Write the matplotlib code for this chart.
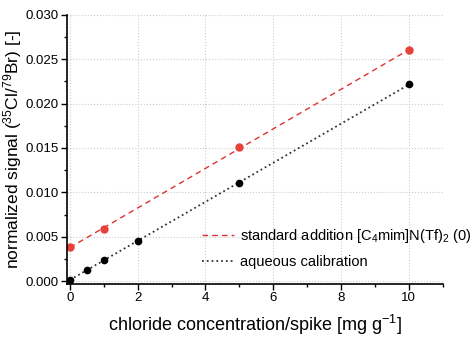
import numpy as np
import matplotlib.pyplot as plt

plt.rcParams['font.family'] = ['Liberation Sans', 'DejaVu Sans']
plt.rcParams['mathtext.fontset'] = 'custom'
plt.rcParams['mathtext.rm'] = 'Liberation Sans'
plt.rcParams['mathtext.it'] = 'Liberation Sans'

# aqueous calibration
x_aq = [0, 0.5, 1, 2, 5, 10]
y_aq = [0.0001, 0.0013, 0.0024, 0.0045, 0.0110, 0.0222]

# standard addition [C4mim]N(Tf)2
x_sa = [0, 1, 5, 10]
y_sa = [0.0038, 0.0059, 0.0151, 0.0260]
err_sa = [0.0002, 0.0002, 0.0002, 0.0003]

fig = plt.figure(figsize=(4.74, 3.39), dpi=100)
ax = fig.add_axes([0.141, 0.162, 0.793, 0.794])

xf = np.array([0, 10])
p_sa = np.polyfit(x_sa, y_sa, 1)
p_aq = np.polyfit(x_aq, y_aq, 1)
ax.plot(xf, np.polyval(p_sa, xf), '--', color='#e03030', lw=1.0, dashes=(4, 3),
        label='standard addition [C$_4$mim]N(Tf)$_2$ (0)')
ax.plot(xf, np.polyval(p_aq, xf), ':', color='#333333', lw=1.3,
        label='aqueous calibration')
ax.errorbar(x_sa, y_sa, yerr=err_sa, fmt='o', color='#e8403a', ms=5, capsize=1.5, elinewidth=0.8)
ax.plot(x_aq, y_aq, 'o', color='black', ms=4.5)

ax.set_xlim(-0.09, 11)
ax.set_ylim(-0.00034, 0.030)
ax.set_xticks([0, 2, 4, 6, 8, 10])
ax.set_xticks([1, 3, 5, 7, 9, 11], minor=True)
ax.set_yticks(np.arange(0, 0.0301, 0.005))
ax.set_yticks(np.arange(0.0025, 0.030, 0.005), minor=True)
ax.set_yticklabels(['%.3f' % v for v in np.arange(0, 0.0301, 0.005)])
ax.tick_params(labelsize=9.5, width=1.0, length=4, direction='out', pad=2)
ax.tick_params(which='minor', width=1.0, length=2.5, direction='out')
ax.grid(True, color='#cccccc', linestyle=':', lw=0.8)
ax.spines['top'].set_visible(False)
ax.spines['right'].set_visible(False)
ax.spines['left'].set_linewidth(1.2)
ax.spines['bottom'].set_linewidth(1.2)

ax.set_xlabel('chloride concentration/spike [mg g$^{-1}$]', fontsize=13, labelpad=6)
ax.set_ylabel('normalized signal ($^{35}$Cl/$^{79}$Br) [-]', fontsize=12.5, labelpad=1)

ax.legend(loc='lower right', bbox_to_anchor=(1.112, 0.007), frameon=False, fontsize=10.5,
          handlelength=2.2, handletextpad=0.4, labelspacing=0.7)

fig.savefig('out.png', dpi=100)
